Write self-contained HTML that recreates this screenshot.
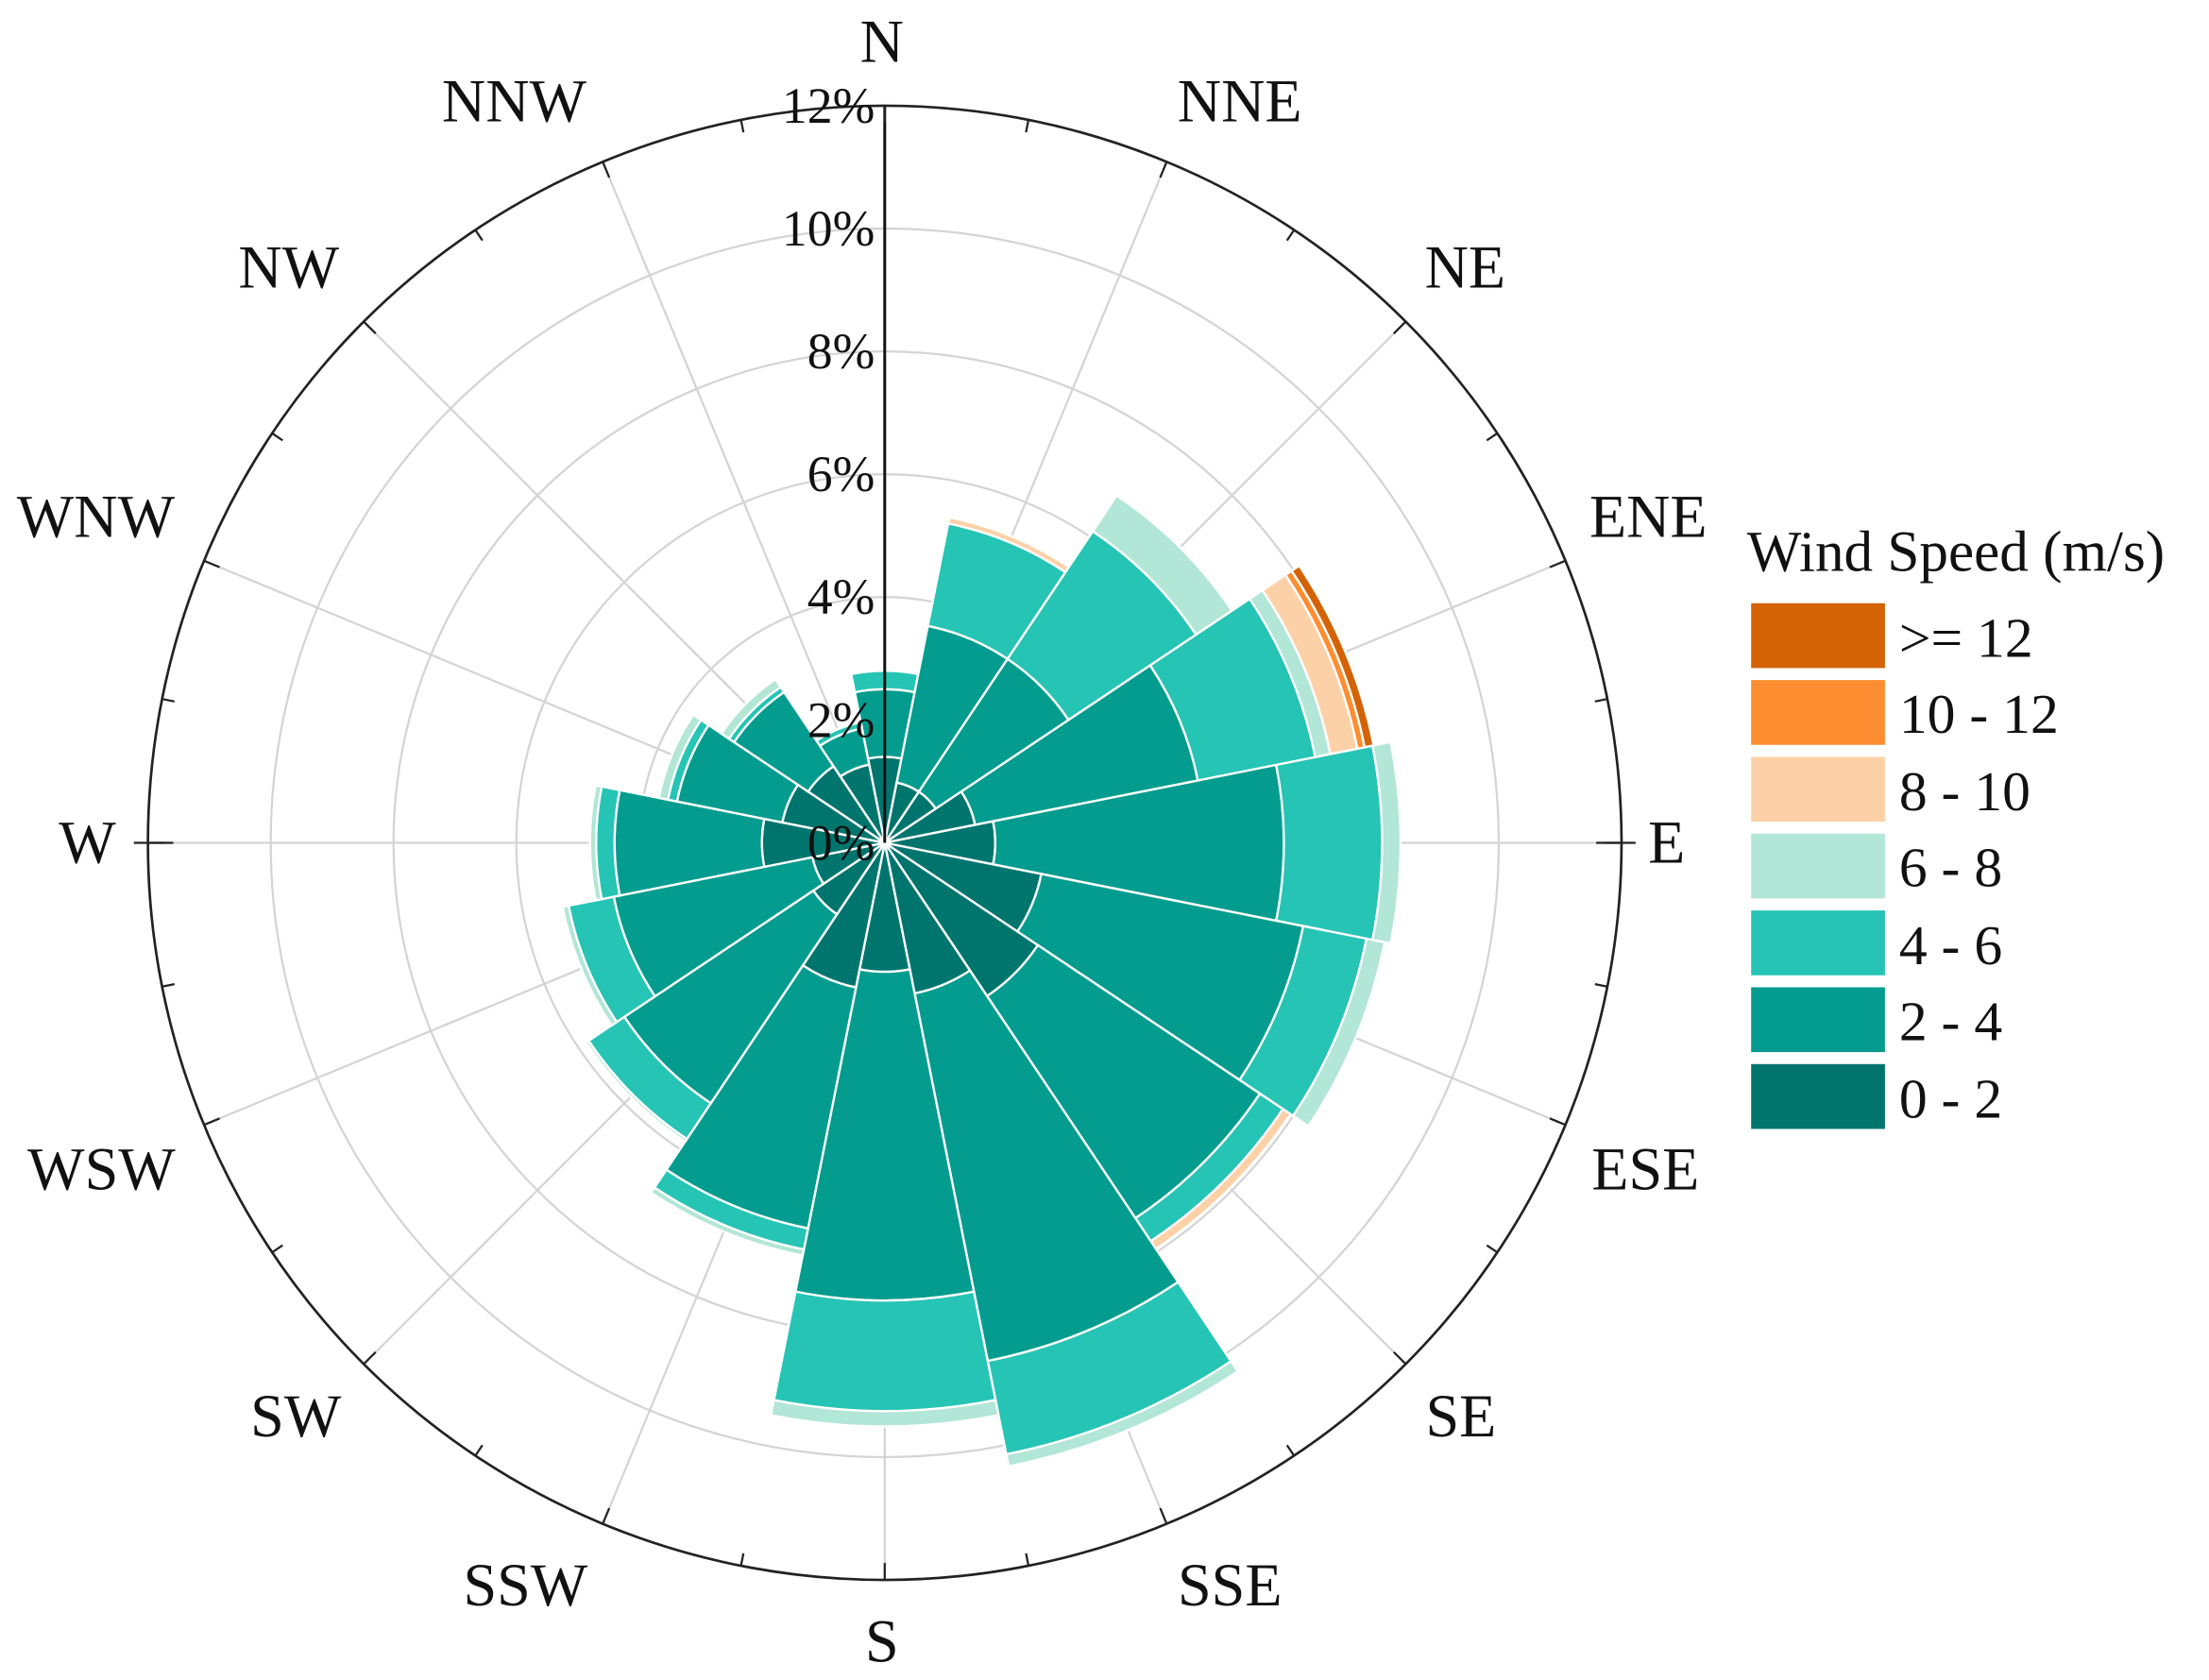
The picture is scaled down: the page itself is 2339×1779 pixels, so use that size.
<!DOCTYPE html>
<html><head><meta charset="utf-8"><style>
html,body{margin:0;padding:0;background:#fff;}
svg{display:block;}
text{font-family:"Liberation Serif",serif;fill:#111;}
</style></head><body>
<svg id="s" width="2339" height="1779" viewBox="0 0 1568 1192" preserveAspectRatio="none" xmlns="http://www.w3.org/2000/svg">
<g id="grid"></g><g id="bars"></g><g id="over"></g>
<text x="1240" y="405" font-size="41">Wind Speed (m/s)</text>
<rect x="1243" y="428" width="95" height="46" fill="#d36305"/><text x="1348" y="466" font-size="40">&gt;= 12</text>
<rect x="1243" y="482.5" width="95" height="46" fill="#fc8d30"/><text x="1348" y="520" font-size="40">10 - 12</text>
<rect x="1243" y="537" width="95" height="46" fill="#fdd1a7"/><text x="1348" y="575" font-size="40">8 - 10</text>
<rect x="1243" y="591.5" width="95" height="46" fill="#b2e6d6"/><text x="1348" y="629" font-size="40">6 - 8</text>
<rect x="1243" y="646" width="95" height="46" fill="#26c4b5"/><text x="1348" y="684" font-size="40">4 - 6</text>
<rect x="1243" y="700.5" width="95" height="46" fill="#039c8f"/><text x="1348" y="738" font-size="40">2 - 4</text>
<rect x="1243" y="755" width="95" height="46" fill="#00756e"/><text x="1348" y="793" font-size="40">0 - 2</text>
</svg>
<script>
var NS="http://www.w3.org/2000/svg",cx=628,cy=598,R=523,U=R/12;
function el(p,t,a,txt){var e=document.createElementNS(NS,t);for(var k in a)e.setAttribute(k,a[k]);if(txt!=null)e.textContent=txt;p.appendChild(e);return e;}
var G=document.getElementById("grid"),B=document.getElementById("bars"),O=document.getElementById("over");
function pt(r,deg){var a=deg*Math.PI/180;return [cx+r*Math.sin(a),cy-r*Math.cos(a)];}
for(var i=1;i<=5;i++)el(G,"circle",{cx:cx,cy:cy,r:i*2*U,fill:"none",stroke:"#d4d4d4","stroke-width":1.5});
for(var d=0;d<16;d++){var p=pt(R,d*22.5);el(G,"line",{x1:cx,y1:cy,x2:p[0],y2:p[1],stroke:"#d4d4d4","stroke-width":1.5});}
var cols=["#00756e","#039c8f","#26c4b5","#b2e6d6","#fdd1a7","#fc8d30","#d36305"];
var data=[[1.4,2.5,2.8],[1.0,3.6,5.3,5.3,5.4],[1.0,3.6,6.1,6.8],[1.5,5.2,7.15,7.4,7.85,7.97,8.12],[1.8,6.5,8.1,8.4],[2.6,6.95,8.0,8.3],[3.0,7.35,7.8,7.8,7.95],[2.5,8.6,10.15,10.35],[2.1,7.45,9.25,9.5],[2.4,6.4,6.75,6.85],[1.4,5.1,5.8,5.85],[1.2,4.5,5.25,5.35],[2.0,4.4,4.7,4.8],[1.7,3.45,3.6,3.75],[1.5,2.95,3.05,3.2],[1.3,1.9,2.0]];
for(var d=0;d<16;d++){var c=d*22.5,a0=c-11.25,a1=c+11.25,prev=0;
 for(var k=0;k<data[d].length;k++){var r0=prev*U,r1=data[d][k]*U;if(r1<=r0){continue;}
  var p1=pt(r1,a0),p2=pt(r1,a1),p3=pt(r0,a1),p4=pt(r0,a0);
  var dd="M"+p4+"L"+p1+"A"+r1+","+r1+" 0 0 1 "+p2+"L"+p3;
  if(r0>0)dd+="A"+r0+","+r0+" 0 0 0 "+p4;dd+="Z";
  el(B,"path",{d:dd,fill:cols[k],stroke:"#fff","stroke-width":1.6,"stroke-linejoin":"miter"});prev=data[d][k];}}
el(O,"circle",{cx:cx,cy:cy,r:R,fill:"none",stroke:"#222","stroke-width":1.8});
el(O,"line",{x1:cx,y1:cy,x2:cx,y2:cy-R,stroke:"#111","stroke-width":2});
for(var t=0;t<32;t++){var ang=t*11.25,L=(t%2==0)?12:9;var a=pt(R,ang),b=pt(R-L,ang);el(O,"line",{x1:a[0],y1:a[1],x2:b[0],y2:b[1],stroke:"#222","stroke-width":1.5});}
el(O,"line",{x1:cx+R-18,y1:cy,x2:cx+R+10,y2:cy,stroke:"#222","stroke-width":1.5});
el(O,"line",{x1:cx-R-10,y1:cy,x2:cx-R+18,y2:cy,stroke:"#222","stroke-width":1.5});
for(var i=0;i<=6;i++){el(O,"text",{x:621,y:cy-i*2*U+12,"font-size":36,"text-anchor":"end"},(i*2)+"%");}
var labs=[["N",626,30],["NNE",880,72],["NE",1040,190],["ENE",1170,367],["E",1183,598],["ESE",1168,830],["SE",1037,1005],["SSE",873,1125],["S",626,1165],["SSW",373,1125],["SW",210,1005],["WSW",72,830],["W",62,598],["WNW",68,367],["NW",205,190],["NNW",365,72]];
labs.forEach(function(l){el(O,"text",{x:l[1],y:l[2]+14,"font-size":43,"text-anchor":"middle"},l[0]);});
</script>
</body></html>
